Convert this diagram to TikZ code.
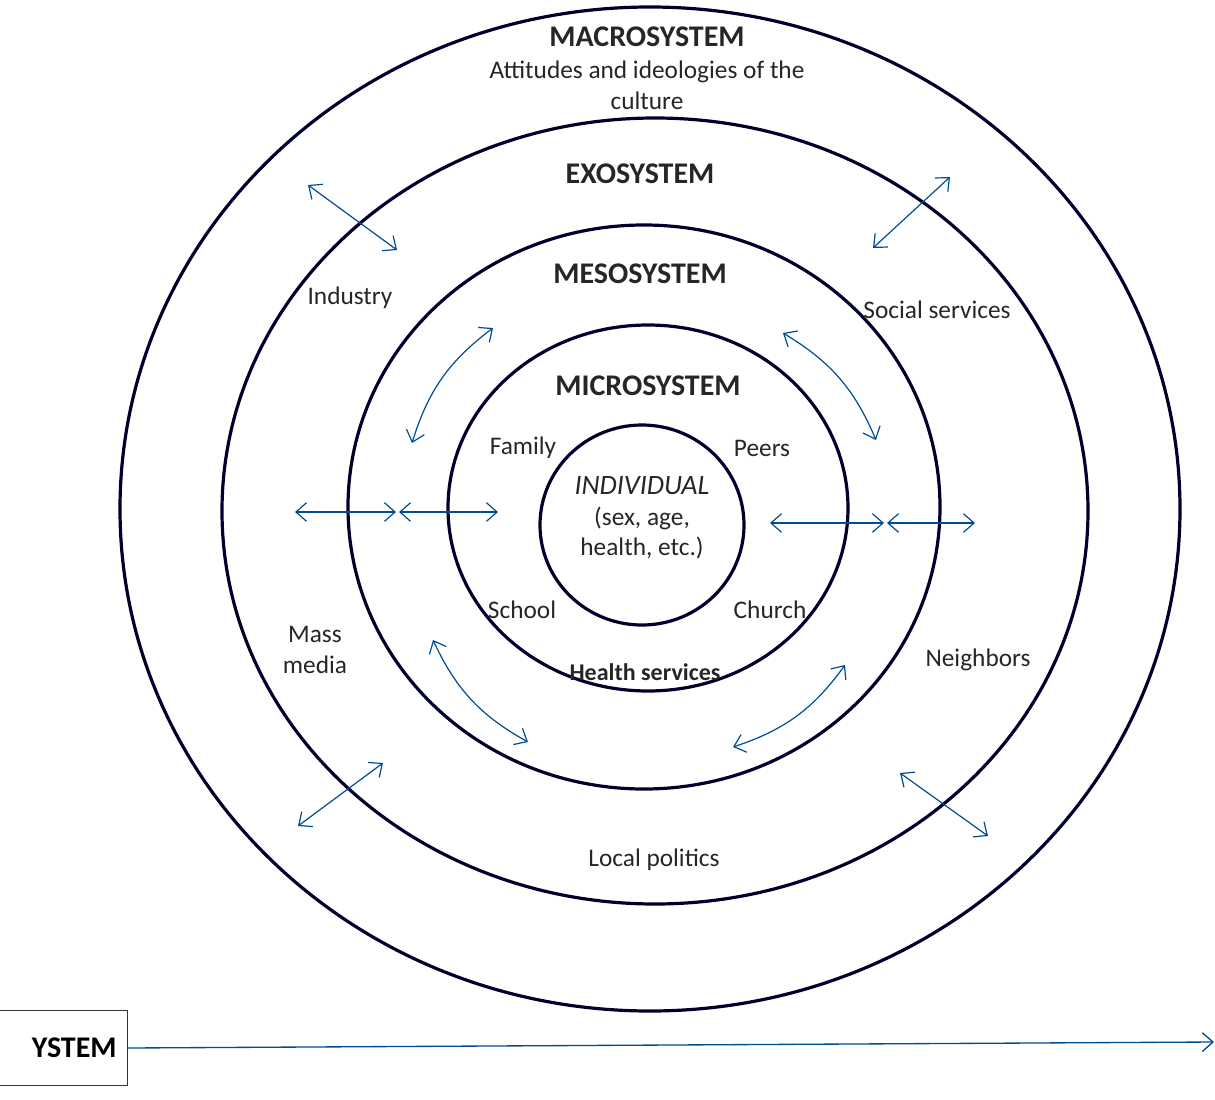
\documentclass[tikz,border=0pt]{standalone}
\usepackage{fontspec}
\setmainfont{Carlito}
\usetikzlibrary{arrows.meta}
\begin{document}
\begin{tikzpicture}[x=0.75pt,y=-0.75pt,
 ring/.style={draw=black!70!blue!60!black,line width=2.4pt},
 arr/.style={draw=blue!40!black!70!cyan,line width=0.9pt,{Straight Barb[length=8pt,width=14pt]}-{Straight Barb[length=8pt,width=14pt]}},
 ttl/.style={font=\bfseries\fontsize{22.5}{24}\selectfont,text=black!85},
 lbl/.style={font=\fontsize{19}{23}\selectfont,text=black!85,align=center}]
\useasboundingbox (0,0) rectangle (1215,1100);
\clip (0,0) rectangle (1215,1100);
\draw[ring] (650,509) ellipse (530 and 502);
\draw[ring] (655,511) ellipse (433 and 393);
\draw[ring] (644,507) ellipse (296 and 282);
\draw[ring] (648,508) ellipse (200 and 183);
\draw[ring] (642,525) ellipse (102 and 100);
\node[ttl] (mac) at (647,37) {MACROSYSTEM};
\node[lbl] (att) at (647,85) {Attitudes and ideologies of the\\culture};
\node[ttl] (exo) at (640,174) {EXOSYSTEM};
\node[ttl] (mes) at (640,274) {MESOSYSTEM};
\node[ttl] (mic) at (648,386) {MICROSYSTEM};
\node[lbl] (ind) at (642,518) {\itshape\fontsize{21}{24}\selectfont INDIVIDUAL\\(sex, age,\\health, etc.)};
\node[lbl] (fam) at (523,448) {Family};
\node[lbl] (pee) at (762,448) {Peers};
\node[lbl] (sch) at (522,610) {School};
\node[lbl] (chu) at (770,610) {Church};
\node[lbl,font=\bfseries\fontsize{18}{22}\selectfont] (hea) at (645,672) {Health services};
\node[lbl] (ind2) at (350,298) {Industry};
\node[lbl] (soc) at (937,310) {Social services};
\node[lbl] (mass) at (315,650) {Mass\\media};
\node[lbl] (nei) at (978,660) {Neighbors};
\node[lbl] (loc) at (654,860) {Local politics};
\coordinate (h1a) at (295,512); \coordinate (h1b) at (396,512);
\coordinate (h2a) at (399,512); \coordinate (h2b) at (498,512);
\coordinate (h3a) at (770,523); \coordinate (h3b) at (884,523);
\coordinate (h4a) at (887,523); \coordinate (h4b) at (975,523);
\draw[arr] (h1a) -- (h1b); \draw[arr] (h2a) -- (h2b);
\draw[arr] (h3a) -- (h3b); \draw[arr] (h4a) -- (h4b);
\coordinate (d1a) at (308,185); \coordinate (d1b) at (397,250);
\coordinate (d2a) at (950,177); \coordinate (d2b) at (873,248);
\coordinate (d3a) at (298,826); \coordinate (d3b) at (383,763);
\coordinate (d4a) at (900,773); \coordinate (d4b) at (988,836);
\draw[arr] (d1a) -- (d1b); \draw[arr] (d2a) -- (d2b);
\draw[arr] (d3a) -- (d3b); \draw[arr] (d4a) -- (d4b);
\coordinate (c1a) at (493,328); \coordinate (c1b) at (412,443);
\coordinate (c2a) at (783,333); \coordinate (c2b) at (876,440);
\coordinate (c3a) at (433,640); \coordinate (c3b) at (528,742);
\coordinate (c4a) at (845,665); \coordinate (c4b) at (733,747);
\draw[arr] (c1a) to[bend right=18] (c1b);
\draw[arr] (c2a) to[bend left=18] (c2b);
\draw[arr] (c3a) to[bend right=18] (c3b);
\draw[arr] (c4a) to[bend left=18] (c4b);
\node[draw=black!80,line width=1pt,minimum height=56pt,inner xsep=8pt,anchor=east,text width=130pt,align=right,font=\bfseries\fontsize{22.5}{24}\selectfont] (box) at (128,1048) {YSTEM};
\coordinate (end) at (1214,1042);
\draw[draw=blue!40!black!70!cyan,line width=1pt,-{Straight Barb[length=8pt,width=14pt]}] (box.east) -- (end);
\end{tikzpicture}
\end{document}
